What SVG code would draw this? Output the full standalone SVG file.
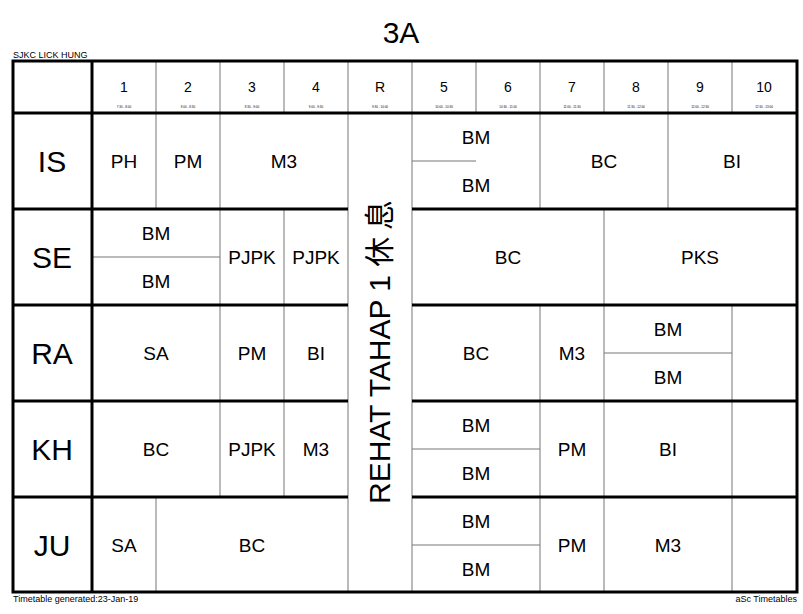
<svg xmlns="http://www.w3.org/2000/svg" width="803" height="614" viewBox="0 0 803 614">
<style>
text{font-family:"Liberation Sans",Arial,sans-serif;fill:#000;text-anchor:middle}
.s{font-size:19px}.d{font-size:30px}.h{font-size:14px}.t{font-size:3px}
.g{stroke:#777;stroke-width:1;fill:none}.k{stroke:#000;stroke-width:3;fill:none}
</style>
<rect width="803" height="614" fill="#fff"/>
<text x="401" y="43" style="font-size:30px">3A</text>
<text x="13" y="58" style="font-size:9px;text-anchor:start">SJKC LICK HUNG</text>
<text x="13" y="602" style="font-size:9px;text-anchor:start">Timetable generated:23-Jan-19</text>
<text x="797" y="602" style="font-size:9px;text-anchor:end">aSc Timetables</text>
<g id="connectors">
<path class="g" d="M156 61V113M220 61V113M284 61V113M348 61V592M412 61V592M476 61V113M540 61V113M604 61V113M668 61V113M732 61V113"/>
<path class="g" d="M156 113V209M220 113V209M540 113V209M668 113V209M412 161H476"/>
<path class="g" d="M220 209V305M284 209V305M604 209V305M92 257H220"/>
<path class="g" d="M220 305V401M284 305V401M540 305V401M604 305V401M732 305V401M604 353H732"/>
<path class="g" d="M220 401V497M284 401V497M540 401V497M604 401V497M732 401V497M412 449H540"/>
<path class="g" d="M156 497V592M540 497V592M604 497V592M732 497V592M412 545H540"/>
<path class="k" d="M13 113H797M13 209H348M412 209H797M13 305H348M412 305H797M13 401H348M412 401H797M13 497H348M412 497H797M92 61V592"/>
<rect class="k" x="13" y="61" width="784" height="531"/>
</g>
<g id="header">
<text class="h" x="124" y="92">1</text><text class="h" x="188" y="92">2</text><text class="h" x="252" y="92">3</text><text class="h" x="316" y="92">4</text><text class="h" x="380" y="92">R</text><text class="h" x="444" y="92">5</text><text class="h" x="508" y="92">6</text><text class="h" x="572" y="92">7</text><text class="h" x="636" y="92">8</text><text class="h" x="700" y="92">9</text><text class="h" x="764" y="92">10</text>
<text class="t" x="124" y="108">7:30 - 8:00</text><text class="t" x="188" y="108">8:00 - 8:30</text><text class="t" x="252" y="108">8:30 - 9:00</text><text class="t" x="316" y="108">9:00 - 9:30</text><text class="t" x="380" y="108">9:30 - 10:00</text><text class="t" x="444" y="108">10:00 - 10:30</text><text class="t" x="508" y="108">10:30 - 11:00</text><text class="t" x="572" y="108">11:00 - 11:30</text><text class="t" x="636" y="108">11:30 - 12:00</text><text class="t" x="700" y="108">12:00 - 12:30</text><text class="t" x="764" y="108">12:30 - 13:00</text>
</g>
<g id="days">
<text class="d" x="52" y="172">IS</text><text class="d" x="52" y="268">SE</text><text class="d" x="52" y="364">RA</text><text class="d" x="52" y="460">KH</text><text class="d" x="52" y="556">JU</text>
</g>
<g id="rehat"><text x="380" y="352" transform="rotate(-90 380 352)" style="font-size:30px" dy="10">REHAT TAHAP 1 <tspan style="font-family:'Noto Sans CJK SC',sans-serif">休 息</tspan></text></g>
<g id="IS">
<text class="s" x="124" y="168">PH</text><text class="s" x="188" y="168">PM</text><text class="s" x="284" y="168">M3</text><text class="s" x="476" y="144">BM</text><text class="s" x="476" y="192">BM</text><text class="s" x="604" y="168">BC</text><text class="s" x="732" y="168">BI</text>
</g>
<g id="SE">
<text class="s" x="156" y="240">BM</text><text class="s" x="156" y="288">BM</text><text class="s" x="252" y="264">PJPK</text><text class="s" x="316" y="264">PJPK</text><text class="s" x="508" y="264">BC</text><text class="s" x="700" y="264">PKS</text>
</g>
<g id="RA">
<text class="s" x="156" y="360">SA</text><text class="s" x="252" y="360">PM</text><text class="s" x="316" y="360">BI</text><text class="s" x="476" y="360">BC</text><text class="s" x="572" y="360">M3</text><text class="s" x="668" y="336">BM</text><text class="s" x="668" y="384">BM</text>
</g>
<g id="KH">
<text class="s" x="156" y="456">BC</text><text class="s" x="252" y="456">PJPK</text><text class="s" x="316" y="456">M3</text><text class="s" x="476" y="432">BM</text><text class="s" x="476" y="480">BM</text><text class="s" x="572" y="456">PM</text><text class="s" x="668" y="456">BI</text>
</g>
<g id="JU">
<text class="s" x="124" y="552">SA</text><text class="s" x="252" y="552">BC</text><text class="s" x="476" y="528">BM</text><text class="s" x="476" y="576">BM</text><text class="s" x="572" y="552">PM</text><text class="s" x="668" y="552">M3</text>
</g>
</svg>
